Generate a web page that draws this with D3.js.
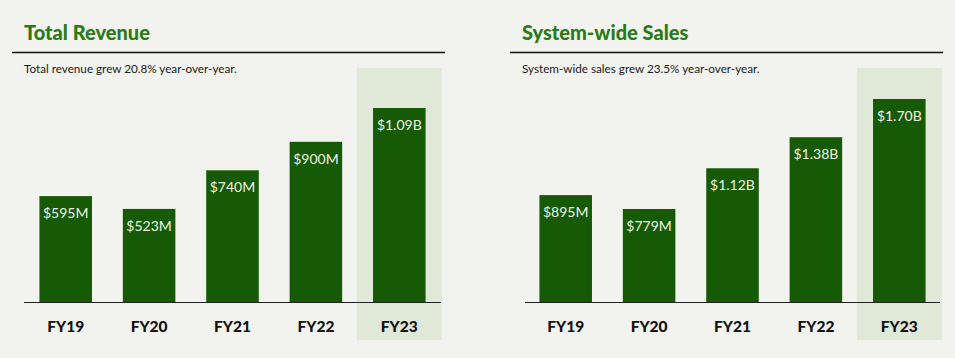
<!DOCTYPE html>
<html><head><meta charset="utf-8">
<script src="https://cdn.jsdelivr.net/npm/d3@7"></script>
<style>
html,body{margin:0;padding:0;background:#f2f2ee;}
svg{display:block;}
</style></head>
<body>
<svg id="chart" width="955" height="358"></svg>
<script>
const categories = ["FY19","FY20","FY21","FY22","FY23"];
const revenueValues = [595, 523, 740, 900, 1090];
const revenueLabels = ["$595M","$523M","$740M","$900M","$1.09B"];
const salesValues = [895, 779, 1120, 1380, 1700];
const salesLabels = ["$895M","$779M","$1.12B","$1.38B","$1.70B"];
const titles = ["Total Revenue","System-wide Sales"];
const subtitles = ["Total revenue grew 20.8% year-over-year.","System-wide sales grew 23.5% year-over-year."];
const highlight = "FY23";

const svg = d3.select("#chart");
const FONT = "Lato, 'Open Sans', sans-serif";

const panels = [
  {ruleX: [12,445], textX: 24, axisX: [24,441], bandX: [24,441], values: revenueValues, labels: revenueLabels, title: titles[0], sub: subtitles[0], yMax: 1090, yTop: 108},
  {ruleX: [510,943], textX: 522, axisX: [525,940], bandX: [524,941], values: salesValues, labels: salesLabels, title: titles[1], sub: subtitles[1], yMax: 1700, yTop: 99}
];

const baseY = 302;

panels.forEach(p => {
  const g = svg.append("g");
  const x = d3.scaleBand().domain(categories).range(p.bandX).paddingInner(0.37).paddingOuter(0.185);
  const y = d3.scaleLinear().domain([0, p.yMax]).range([baseY, p.yTop]);

  g.append("text").attr("x", p.textX).attr("y", 39.5)
    .attr("font-family", FONT).attr("font-weight", 900).attr("font-size", 20)
    .attr("fill", "#2a7a17").text(p.title);
  g.append("line").attr("x1", p.ruleX[0]).attr("x2", p.ruleX[1]).attr("y1", 52.5).attr("y2", 52.5)
    .attr("stroke", "#111").attr("stroke-width", 1.6);
  g.append("text").attr("x", p.textX).attr("y", 72.5)
    .attr("font-family", FONT).attr("font-size", 11.7).attr("fill", "#1a1a1a").text(p.sub);

  const hx = x(highlight) + x.bandwidth()/2 - 42.5;
  g.append("rect").attr("x", hx).attr("y", 68).attr("width", 85).attr("height", 272)
    .attr("fill", "#e0e8d8");

  g.selectAll("rect.bar").data(p.values).join("rect").attr("class","bar")
    .attr("x", (d,i) => x(categories[i]))
    .attr("y", d => y(d))
    .attr("width", x.bandwidth())
    .attr("height", d => baseY - y(d))
    .attr("fill", "#175a06");

  g.selectAll("text.val").data(p.values).join("text").attr("class","val")
    .attr("x", (d,i) => x(categories[i]) + x.bandwidth()/2)
    .attr("y", d => y(d) + 22)
    .attr("text-anchor", "middle")
    .attr("font-family", FONT).attr("font-size", 14).attr("fill", "#eef3e6")
    .text((d,i) => p.labels[i]);

  const axis = d3.axisBottom(x).tickSize(0).tickPadding(0);
  const ag = g.append("g").attr("transform", `translate(0,${baseY})`).call(axis);
  ag.select(".domain").remove();
  ag.selectAll("text").attr("y", 30).attr("dy", 0)
    .attr("font-family", FONT).attr("font-weight", 900).attr("font-size", 15.5).attr("fill", "#111");
  g.append("line").attr("x1", p.axisX[0]).attr("x2", p.axisX[1]).attr("y1", baseY+0.5).attr("y2", baseY+0.5)
    .attr("stroke", "#222").attr("stroke-width", 1.2);
});
</script>
</body></html>
